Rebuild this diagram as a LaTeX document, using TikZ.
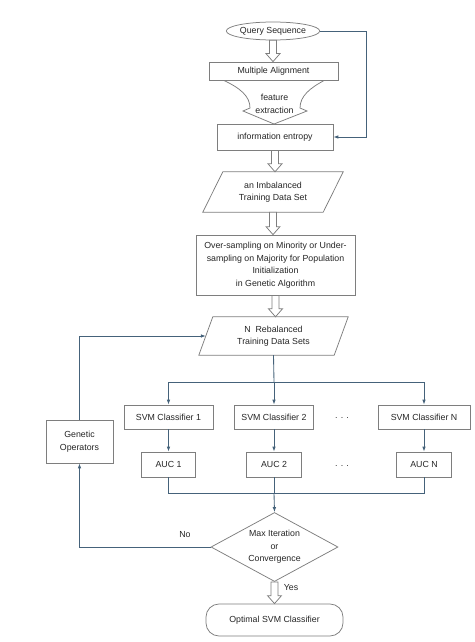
\documentclass[tikz,border=0pt]{standalone}
\usepackage{fontspec}
\setmainfont{Liberation Sans}
\usetikzlibrary{shapes.geometric,arrows.meta,calc}
\definecolor{lnc}{HTML}{45627A}
\definecolor{bdc}{HTML}{7E7E7E}
\definecolor{txc}{HTML}{262626}
\newcommand{\hollowarr}[2]{\draw[harr] let \p1=(#1), \p2=(#2) in (\x1-3.5pt,\y1) -- (\x1-3.5pt,\y2+8pt) -- (\x1-7pt,\y2+8pt) -- (\x1,\y2) -- (\x1+7pt,\y2+8pt) -- (\x1+3.5pt,\y2+8pt) -- (\x1+3.5pt,\y1) -- cycle;}
\tikzset{
  box/.style={draw=bdc, line width=0.75pt, fill=white, inner sep=1pt, align=center},
  txt/.style={inner sep=0pt, align=center},
  para/.style={draw=bdc, line width=0.75pt},
  conn/.style={draw=lnc, line width=0.85pt},
  arr/.style={conn, -{Latex[length=5pt,width=3.6pt]}},
  harr/.style={draw=bdc, line width=0.75pt, fill=white}
}
\begin{document}
\begin{tikzpicture}[x=1pt, y=-1pt, font=\fontsize{8.8}{12.5}\selectfont, text=txc]
\useasboundingbox (0,0) rectangle (474,642);
% top part
\node[box, ellipse, minimum width=93, minimum height=18, inner sep=0pt] (qs) at (273,31) {Query Sequence};
\draw[harr] (223,80) .. controls (240,88) and (250,96) .. (250,108) -- (243,111) -- (274,124) -- (307,111) -- (300,108) .. controls (300,96) and (310,88) .. (325,80);
\node[box, minimum width=129, minimum height=18] (ma) at (273.5,71) {Multiple Alignment};
\node[txt] (fe) at (274.5,104) {feature\\extraction};
\node[box, minimum width=116, minimum height=26] (ie) at (275,137) {information entropy};
\coordinate (fbq) at (366,31);
\draw[arr] (qs.east) -- (fbq) |- (ie.east);
\hollowarr{qs.south}{ma.north}
% imbalanced set
\node[txt, minimum width=140, minimum height=40] (ib) at (273,192) {an Imbalanced\\Training Data Set};
\draw[para] (ib.south west) -- ($(ib.north west)+(20,0)$) -- (ib.north east) -- ($(ib.south east)+(-20,0)$) -- cycle;
\hollowarr{ie.south}{ib.north}
% over-sampling
\node[box, minimum width=159, minimum height=60] (os) at (275.5,265) {Over-sampling on Minority or Under-\\sampling on Majority for Population\\Initialization\\in Genetic Algorithm};
\hollowarr{ib.south}{os.north}
% rebalanced
\node[txt, minimum width=149, minimum height=38] (rb) at (273.5,336) {N~~Rebalanced\\Training Data Sets};
\draw[para] (rb.south west) -- ($(rb.north west)+(14,0)$) -- (rb.north east) -- ($(rb.south east)+(-14,0)$) -- cycle;
\hollowarr{os.south}{rb.north}
% classifiers
\node[box, minimum width=89, minimum height=24] (s1) at (168.5,417) {SVM Classifier 1};
\node[box, minimum width=79, minimum height=24] (s2) at (274,417) {SVM Classifier 2};
\node[box, minimum width=92, minimum height=24] (sN) at (424,417) {SVM Classifier N};
\node[box, minimum width=54, minimum height=25] (a1) at (168.5,464.5) {AUC 1};
\node[box, minimum width=55, minimum height=25] (a2) at (274,464.5) {AUC 2};
\node[box, minimum width=55, minimum height=25] (aN) at (424,464.5) {AUC N};
\node[txt] (d1) at (342,418) {. . .};
\node[txt] (d2) at (342,466) {. . .};
\coordinate (split) at (274,382);
\draw[conn] (rb.south) -- (split);
\draw[arr] (split) -| (s1.north);
\draw[arr] (split) -- (s2.north);
\draw[arr] (split) -| (sN.north);
\draw[arr] (s1.south) -- (a1.north);
\draw[arr] (s2.south) -- (a2.north);
\draw[arr] (sN.south) -- (aN.north);
% decision
\node[box, diamond, aspect=1.84, minimum width=127, minimum height=69, inner sep=0pt] (dia) at (274.5,547) {Max Iteration\\or\\Convergence};
\coordinate (join) at (274,493);
\draw[conn] (a1.south) |- (join);
\draw[conn] (aN.south) |- (join);
\draw[conn] (a2.south) -- (join);
\draw[arr] (join) -- (dia.north);
% genetic operators loop
\node[box, minimum width=67, minimum height=43] (go) at (79.5,441.5) {Genetic\\Operators};
\node[txt] (no) at (185,535) {No};
\draw[arr] (dia.west) -| (go.south);
\coordinate (rbin) at ($(rb.south west)!0.5!(rb.north west)+(7,0)$);
\draw[arr] (go.north) |- (rbin);
% result
\node[box, rounded corners=13pt, minimum width=137, minimum height=32] (opt) at (274.5,620) {Optimal SVM Classifier};
\hollowarr{dia.south}{opt.north}
\node[txt] (yes) at (291,588) {Yes};
\end{tikzpicture}
\end{document}
